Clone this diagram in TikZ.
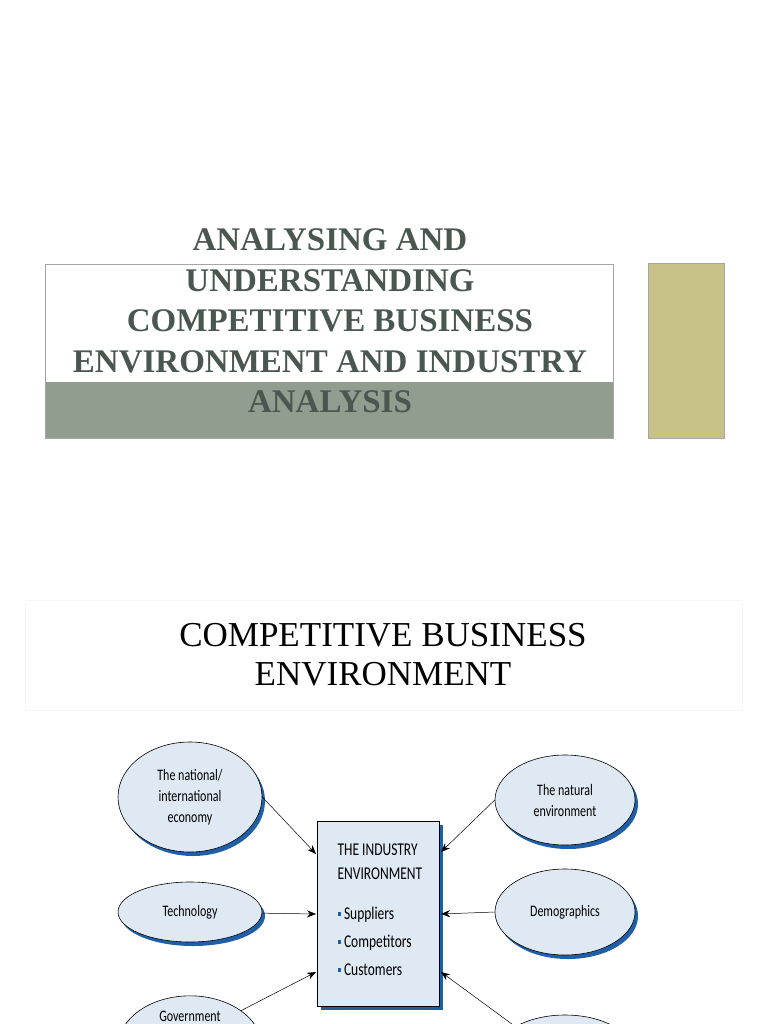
\documentclass[tikz,border=0pt]{standalone}
\usepackage{fontspec}
\setmainfont{Liberation Serif}
\newfontfamily\diag[FakeStretch=0.75]{Carlito}
\usetikzlibrary{shapes.geometric,arrows.meta,shadows}
\definecolor{titlec}{HTML}{4A5650}
\definecolor{bandc}{HTML}{8F9E8F}
\definecolor{olivec}{HTML}{C8C188}
\definecolor{bluef}{HTML}{DFE9F4}
\definecolor{blues}{HTML}{1F5FA8}
\tikzset{
 ell/.style={ellipse,draw=black,fill=bluef,line width=0.6pt,font=\diag\fontsize{16}{18}\selectfont,align=center,inner sep=0pt,
   drop shadow={shadow xshift=3pt,shadow yshift=-4pt,fill=blues,opacity=1}},
 arr/.style={-{Stealth[length=9pt,width=7pt]},line width=0.5pt}
}
\newcommand\bsq{{\color{blues}\rule[0.18em]{3.5pt}{3.5pt}}\,}
\begin{document}
\begin{tikzpicture}[x=1pt,y=-1pt]
\useasboundingbox (0,0) rectangle (768,1024);
\clip (0,0) rectangle (768,1024);
% top slide
\draw[draw=gray!70,fill=white] (45,264) rectangle (613,382);
\fill[bandc] (45,382) rectangle (613,438);
\draw[gray!70] (45,264) rectangle (613,438);
\fill[olivec] (648,263) rectangle (724,438);
\draw[gray!70] (648,263) rectangle (724,438);
\node[font=\bfseries\fontsize{33}{40.5}\selectfont,text=titlec,align=center] (title) at (330,321)
 {ANALYSING AND\\UNDERSTANDING\\COMPETITIVE BUSINESS\\ENVIRONMENT AND INDUSTRY\\ANALYSIS};
% second slide
\draw[gray!6] (25,600) rectangle (742,710);
\node[font=\fontsize{35}{39}\selectfont,align=center] (sub) at (383,655) {COMPETITIVE BUSINESS\\ENVIRONMENT};
% diagram
\node[draw=black,fill=bluef,line width=0.6pt,minimum width=122pt,minimum height=185pt,
  drop shadow={shadow xshift=4pt,shadow yshift=-4pt,fill=blues,opacity=1}] (box) at (378,913.5) {};
\node[font=\diag\fontsize{18}{24}\selectfont,align=left,anchor=north west] (bt) at (334,840)
 {THE INDUSTRY\\ENVIRONMENT};
\node[font=\diag\fontsize{18}{28}\selectfont,align=left,anchor=north west] (bl) at (334,903)
 {\bsq Suppliers\\\bsq Competitors\\\bsq Customers};
\node[ell,minimum width=144pt,minimum height=110pt] (nat) at (190,797) {The national/\\[3pt]international\\[3pt]economy};
\node[ell,minimum width=144pt,minimum height=60pt] (tech) at (190,912) {Technology};
\node[ell,minimum width=144pt,minimum height=96pt] (gov) at (190,1047) {Government\\[44pt]};
\node[ell,minimum width=140pt,minimum height=90pt] (natu) at (565,800) {The natural\\[3pt]environment};
\node[ell,minimum width=140pt,minimum height=86pt] (demo) at (565,912) {Demographics};
\node[ell,minimum width=140pt,minimum height=80pt] (soc) at (565,1055) {};
\coordinate (a1) at (316,854); \coordinate (a2) at (316,914); \coordinate (a3) at (316,972);
\coordinate (b1) at (441,852); \coordinate (b2) at (441,914); \coordinate (b3) at (441,972);
\draw[arr] (nat.east) -- (a1);
\draw[arr] (tech) -- (a2);
\draw[arr] (gov.north east) -- (a3);
\draw[arr] (natu.west) -- (b1);
\draw[arr] (demo.west) -- (b2);
\draw[arr] (soc.north west) -- (b3);
\end{tikzpicture}
\end{document}
